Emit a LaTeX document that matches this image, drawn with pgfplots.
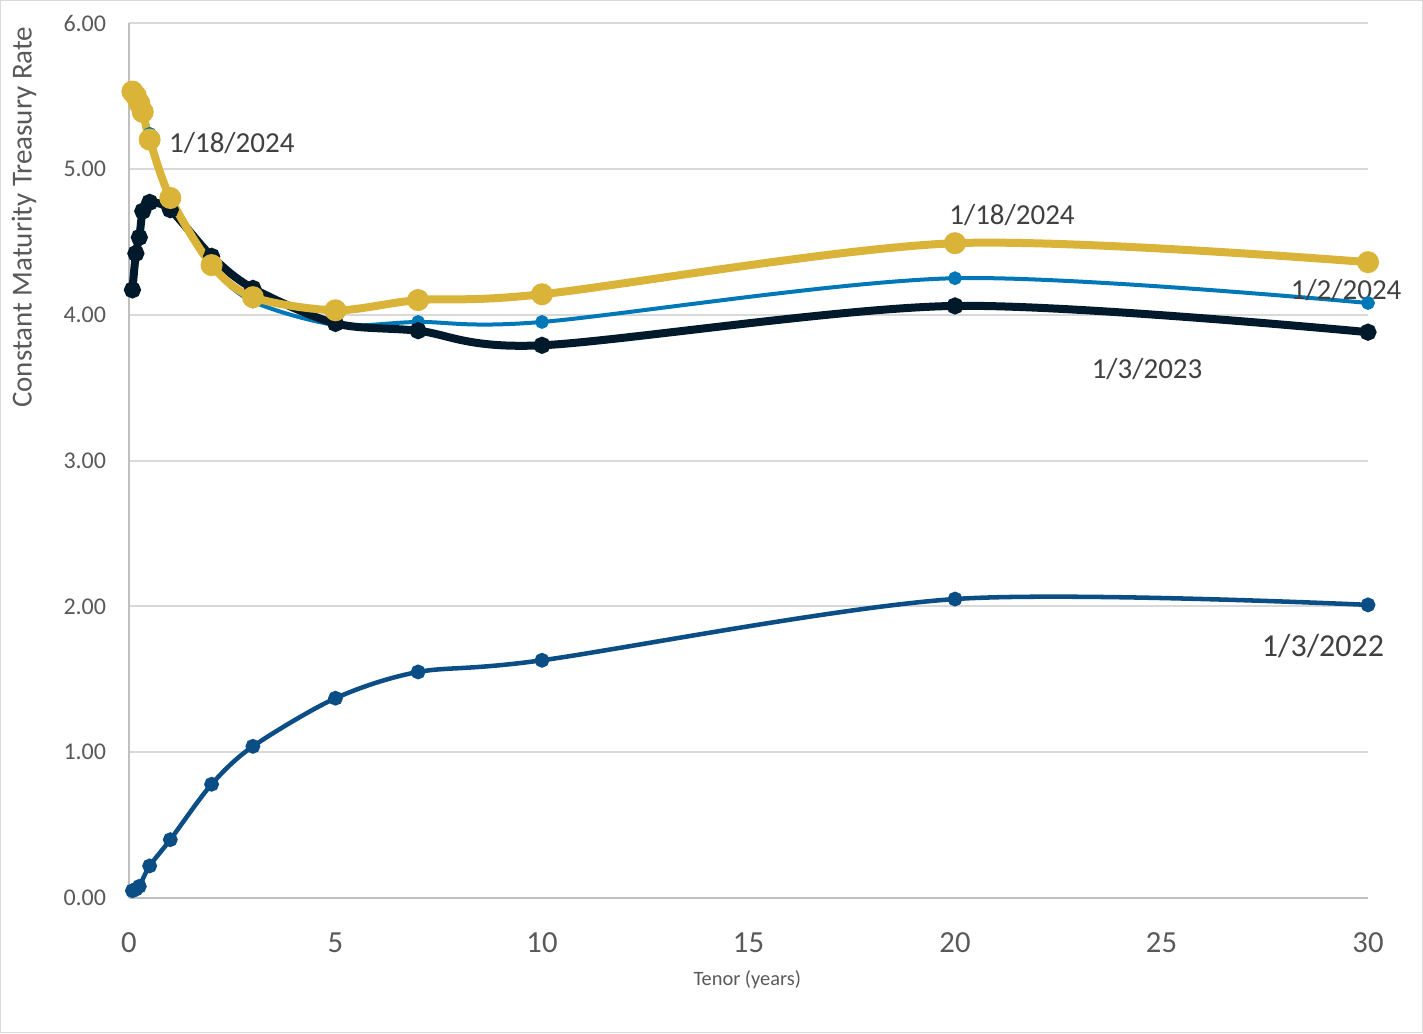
\documentclass[border=0pt]{standalone}
\usepackage{fontspec}
\setmainfont{Carlito}
\usepackage{pgfplots}
\pgfplotsset{compat=1.18}

\definecolor{goldline}{RGB}{218,179,57}
\definecolor{blueline}{RGB}{0,119,182}
\definecolor{blackline}{RGB}{1,26,43}
\definecolor{navyline}{RGB}{10,78,133}
\definecolor{gridgray}{RGB}{217,217,217}
\definecolor{axisgray}{RGB}{191,191,191}
\definecolor{tickgray}{RGB}{89,89,89}
\definecolor{labelgray}{RGB}{64,64,64}

% tenors in years: 1m 2m 3m 4m 6m 1y 2y 3y 5y 7y 10y 20y 30y
\pgfplotstableread{
x y
0.0833 0.05
0.1667 0.06
0.25 0.08
0.5 0.22
1 0.40
2 0.78
3 1.04
5 1.37
7 1.55
10 1.63
20 2.05
30 2.01
}\curveA

\pgfplotstableread{
x y
0.0833 4.17
0.1667 4.42
0.25 4.53
0.3333 4.71
0.5 4.77
1 4.72
2 4.40
3 4.18
5 3.94
7 3.89
10 3.79
20 4.06
30 3.88
}\curveB

\pgfplotstableread{
x y
0.0833 5.55
0.1667 5.54
0.25 5.46
0.3333 5.41
0.5 5.24
1 4.80
2 4.33
3 4.09
5 3.93
7 3.95
10 3.95
20 4.25
30 4.08
}\curveC

\pgfplotstableread{
x y
0.0833 5.53
0.1667 5.50
0.25 5.45
0.3333 5.39
0.5 5.20
1 4.80
2 4.34
3 4.12
5 4.03
7 4.10
10 4.14
20 4.49
30 4.36
}\curveD

\begin{document}
\begin{tikzpicture}
\useasboundingbox (0,0) rectangle (1067.25pt,774.75pt);
\draw[gridgray, line width=1pt] (0.5pt,0.5pt) rectangle (1066.75pt,774.25pt);
\begin{axis}[
    at={(96.75pt,101.25pt)}, anchor=south west,
    scale only axis,
    width=929.25pt, height=656.25pt,
    xmin=0, xmax=30, ymin=0, ymax=6,
    xtick={0,5,...,30}, ytick={0,1,...,6},
    major tick length=0pt,
    separate axis lines,
    axis x line*=bottom, axis y line*=left,
    axis line style={-, draw=axisgray, line width=2pt},
    ymajorgrids, grid style={gridgray, line width=1.5pt},
    /pgf/number format/assume math mode=true,
    yticklabel={\pgfmathprintnumber[fixed,fixed zerofill,precision=2]{\tick}},
    yticklabel style={font=\fontsize{18}{18}\selectfont, text=tickgray,
        anchor=east, inner sep=0pt, xshift=-17pt},
    xticklabel style={font=\fontsize{23}{23}\selectfont, text=tickgray,
        anchor=north, inner sep=0pt, yshift=-26pt},
    clip=false,
    every axis plot/.append style={smooth, tension=0.5, mark=*},
]
\addplot[navyline, line width=3.4pt, mark size=3.8pt,
    mark options={draw=none, fill=navyline}] table {\curveA};
\addplot[blueline, line width=3pt, mark size=3.6pt,
    mark options={draw=none, fill=blueline}] table {\curveC};
\addplot[blackline, line width=6pt, mark size=3.3pt,
    mark options={draw=none, fill=blackline}] table {\curveB};
\addplot[goldline, line width=6pt, mark size=5.2pt,
    mark options={draw=none, fill=goldline}] table {\curveD};

\node[font=\fontsize{21.75}{22}\selectfont, text=labelgray] at (axis cs:2.49,5.18) {1/18/2024};
\node[font=\fontsize{21.75}{22}\selectfont, text=labelgray] at (axis cs:21.38,4.68) {1/18/2024};
\node[font=\fontsize{21.75}{22}\selectfont, text=labelgray] at (axis cs:29.47,4.17) {1/2/2024};
\node[font=\fontsize{21.75}{22}\selectfont, text=labelgray] at (axis cs:24.65,3.63) {1/3/2023};
\node[font=\fontsize{24}{24}\selectfont, text=labelgray] at (axis cs:28.91,1.73) {1/3/2022};

\node[rotate=90, font=\fontsize{21.75}{22}\selectfont, text=tickgray]
    at (rel axis cs:-0.0847,0.778) {Constant Maturity Treasury Rate};
\node[font=\fontsize{15.3}{16}\selectfont, text=tickgray]
    at (rel axis cs:0.499,-0.0937) {Tenor (years)};
\end{axis}
\end{tikzpicture}
\end{document}
